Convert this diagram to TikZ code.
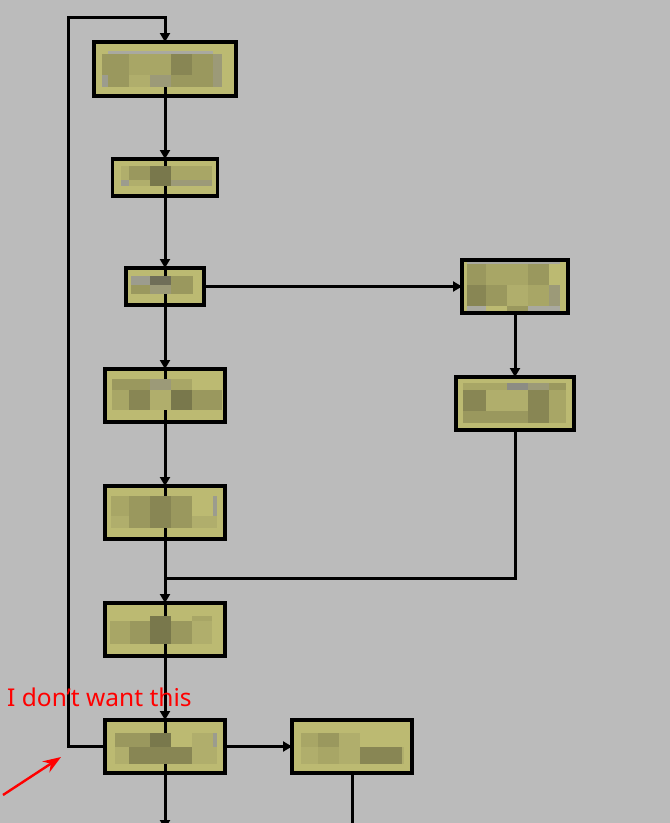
\documentclass[tikz,border=0pt]{standalone}
\usepackage{fontspec}
\setmainfont{Noto Sans}
\usetikzlibrary{arrows.meta}
\definecolor{bg}{HTML}{BBBBBB}
\definecolor{boxfill}{HTML}{BCBA72}
\definecolor{m1}{HTML}{A8A666}
\definecolor{m2}{HTML}{9A985E}
\definecolor{m3}{HTML}{888654}
\definecolor{m4}{HTML}{B0AE6C}
\definecolor{m5}{HTML}{79784C}
\definecolor{gr}{HTML}{9C9C8E}
\definecolor{go}{HTML}{9C9A78}
\definecolor{gl}{HTML}{A9A9A0}
\definecolor{dk}{HTML}{6F6E58}
\definecolor{gm}{HTML}{8C8C84}
\definecolor{redtxt}{HTML}{FF0000}
\begin{document}
\begin{tikzpicture}[x=1pt,y=-1pt,
  box/.style={rectangle, fill=boxfill, inner sep=0pt, outer sep=0pt},
  conn/.style={line width=3pt, draw=black},
  tip/.style={-{Triangle[width=10pt,length=9pt]}},
  bord/.style={line width=3.2pt, draw=black},
  note/.style={text=redtxt, inner sep=0pt, font=\fontsize{24.5}{29}\selectfont},
  notearrow/.style={draw=redtxt, line width=2.4pt, -{Stealth[width=13pt,length=18pt]}}]
\useasboundingbox[fill=bg] (0,0) rectangle (670,823);
% boxes (fill only)
\node[box, minimum width=142pt, minimum height=54pt] (b1) at (165,69) {};
\node[box, minimum width=105pt, minimum height=37pt] (b2) at (165,177.5) {};
\node[box, minimum width=78pt, minimum height=37pt] (b3) at (165,286.5) {};
\node[box, minimum width=106pt, minimum height=53pt] (r1) at (515,286.5) {};
\node[box, minimum width=118pt, minimum height=53pt] (r2) at (515,403.5) {};
\node[box, minimum width=120pt, minimum height=53pt] (b4) at (165,395.5) {};
\node[box, minimum width=120pt, minimum height=53pt] (b5) at (165,512.5) {};
\node[box, minimum width=120pt, minimum height=53pt] (b6) at (165,629.5) {};
\node[box, minimum width=120pt, minimum height=53pt] (b7) at (165,746.5) {};
\node[box, minimum width=120pt, minimum height=53pt] (b8) at (352,746.5) {};
\coordinate (lt) at (68,17);
\coordinate (j) at (165,578);
\coordinate (e1) at (165,829);
\coordinate (e2) at (352,840);
% connectors
\draw[conn, tip] (b7.west) -| (lt) -| (b1.north);
\draw[conn, tip] (b1.center) -- (b2.north);
\draw[conn] (b2.north) -- (b2.center);
\draw[conn, tip] (b2.center) -- (b3.north);
\draw[conn] (b3.north) -- (b3.center);
\draw[conn, tip] (b3.center) -- (b4.north);
\draw[conn] (b4.north) -- (b4.center);
\draw[conn, tip] (b4.center) -- (b5.north);
\draw[conn] (b5.north) -- (b5.center);
\draw[conn, tip] (b5.center) -- (b6.north);
\draw[conn] (b6.north) -- (b6.center);
\draw[conn, tip] (b6.center) -- (b7.north);
\draw[conn] (b7.north) -- (b7.center);
\draw[conn, tip] (b7.center) -- (e1);
\draw[conn, tip] (b3.east) -- (r1.west);
\draw[conn, tip] (r1.south) -- (r2.north);
\draw[conn] (r2.south) |- (j);
\draw[conn, tip] (b7.east) -- (b8.west);
\draw[conn] (b8.south) -- (e2);
% pixelated labels
\foreach \xa/\ya/\xb/\yb/\cc in {
 108/51/213/54/gl, 102/54/108/75/m2, 108/54/129/75/m2, 129/54/150/75/m1, 150/54/171/75/m1,
 171/54/192/75/m3, 192/54/213/75/m2, 213/54/222/75/go, 102/75/108/87/gr, 108/75/129/87/m2,
 129/75/150/87/m4, 150/75/171/87/go, 171/75/192/87/m2, 192/75/213/87/m2, 213/75/222/87/go,
 121/166/129/180/m4, 129/166/150/180/m2, 150/166/171/180/m5, 171/166/192/180/m1, 192/166/212/180/m1,
 121/180/129/186/gr, 129/180/150/186/m4, 150/180/171/186/m5, 171/180/192/186/go, 192/180/212/186/go,
 131/276/150/285/gr, 150/276/171/285/dk, 171/276/193/285/m2,
 131/285/150/294/m2, 150/285/171/294/go, 171/285/193/294/m2,
 467/262/560/264/gl, 467/264/486/285/m2, 486/264/507/285/m1, 507/264/528/285/m1, 528/264/549/285/m2,
 467/285/486/306/m3, 486/285/507/306/m2, 507/285/528/306/m4, 528/285/549/306/m1, 549/285/560/306/go,
 467/306/486/311/gl, 507/306/528/311/m2, 528/306/560/311/gl,
 463/383/486/390/m1, 486/383/507/390/m1, 507/383/528/390/gm, 528/383/549/390/go, 549/383/566/390/m2,
 463/390/486/411/m3, 486/390/507/411/m4, 507/390/528/411/m4, 528/390/549/411/m3, 549/390/566/411/m1,
 463/411/486/423/m2, 486/411/507/423/m2, 507/411/528/423/m2, 528/411/549/423/m3, 549/411/566/423/m1,
 112/379/129/390/m2, 129/379/150/390/m2, 150/379/171/390/go, 171/379/192/390/m1,
 112/390/129/410/m1, 129/390/150/410/m3, 150/390/171/410/m4, 171/390/192/410/m5, 192/390/213/410/m2, 213/390/222/410/m2,
 111/496/129/516/m1, 129/496/150/516/m2, 150/496/171/516/m3, 171/496/192/516/m2, 213/496/217/516/gr,
 111/516/129/528/m4, 129/516/150/528/m2, 150/516/171/528/m3, 171/516/192/528/m2, 192/516/213/528/m4, 213/516/217/528/m4,
 150/616/171/621/m5, 192/616/212/621/m1,
 110/621/130/644/m1, 130/621/150/644/m2, 150/621/171/644/m5, 171/621/192/644/m2, 192/621/212/644/m4,
 115/733/129/747/m2, 129/733/150/747/m2, 150/733/171/747/m5, 192/733/213/747/m4, 213/733/217/747/gr,
 115/747/129/764/m4, 129/747/150/764/m3, 150/747/171/764/m3, 171/747/192/764/m3, 192/747/213/764/m4, 213/747/217/764/m4,
 301/733/318/747/m1, 318/733/339/747/m2, 339/733/360/747/m4,
 301/747/318/764/m4, 318/747/339/764/m1, 339/747/360/764/m4, 360/747/381/764/m3, 381/747/402/764/m3, 402/747/404/764/m4}
 {\fill[\cc] (\xa,\ya) rectangle (\xb,\yb);}
% borders
\foreach \n in {b1,b2,b3,r1,r2,b4,b5,b6,b7,b8}
 {\draw[bord] (\n.north west) rectangle (\n.south east);}
% annotation
\node[note, anchor=base west] (txt) at (7,706) {I don't want this};
\coordinate (na) at (3,795);
\coordinate (nb) at (61,757);
\draw[notearrow] (na) -- (nb);
\end{tikzpicture}
\end{document}
